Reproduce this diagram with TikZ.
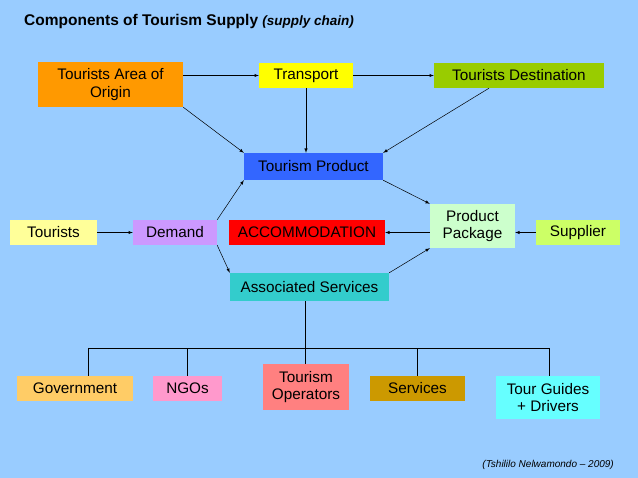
\documentclass[tikz,border=0pt]{standalone}
\usepackage{fontspec}
\setmainfont{Liberation Sans}
\begin{document}
\begin{tikzpicture}[x=1pt,y=-1pt,
  bx/.style={draw=none,inner sep=0pt,align=center,font=\fontsize{15.3}{17.5}\selectfont},
  ar/.style={-latex,black,line width=0.5pt},
  ln/.style={black,line width=0.5pt}]
\fill[fill={rgb,255:red,153;green,204;blue,255}] (0,0) rectangle (638,478);
\useasboundingbox (0,0) rectangle (638,478);
\newcommand\bx[7]{\node[bx,fill={rgb,255:#6},minimum width={#4-#2},minimum height={#5-#3}] (#1) at ({(#2+#4)/2},{(#3+#5)/2}) {#7};}
\bx{orig}{38}{62}{183}{107}{red,255;green,153;blue,0}{Tourists Area of\\Origin}
\bx{trans}{259}{63}{353}{88}{red,255;green,255;blue,0}{Transport}
\bx{dest}{434}{63}{604}{88}{red,153;green,204;blue,0}{Tourists Destination}
\bx{prod}{244}{153}{383}{180}{red,51;green,102;blue,255}{Tourism Product}
\bx{tour}{10}{220}{97}{245}{red,255;green,255;blue,153}{Tourists}
\bx{dem}{133}{220}{217}{245}{red,204;green,153;blue,255}{Demand}
\bx{acc}{229}{220}{385}{245}{red,255;green,0;blue,0}{ACCOMMODATION}
\bx{pack}{430}{204}{515}{248}{red,204;green,255;blue,204}{Product\\Package}
\bx{sup}{536}{220}{620}{245}{red,204;green,255;blue,102}{Supplier}
\bx{assoc}{230}{273}{389}{301}{red,51;green,204;blue,204}{Associated Services}
\bx{gov}{17}{376}{133}{401}{red,255;green,204;blue,102}{Government}
\bx{ngo}{153}{376}{222}{401}{red,255;green,153;blue,204}{NGOs}
\bx{op}{263}{364}{349}{410}{red,255;green,128;blue,128}{Tourism\\Operators}
\bx{serv}{370}{376}{465}{401}{red,204;green,153;blue,0}{Services}
\bx{guide}{496}{376}{600}{419}{red,102;green,255;blue,255}{Tour Guides\\+ Drivers}
\node[anchor=west,inner sep=0pt] (title) at (24,21) {\fontsize{15.5}{17}\selectfont\bfseries Components of Tourism Supply \fontsize{13.5}{15}\selectfont\itshape(supply chain)};
\node[anchor=east,inner sep=0pt] (foot) at (614,465) {\fontsize{10}{12}\selectfont\itshape (Tshililo Nelwamondo – 2009)};
\draw[ar] (orig.east|-trans) -- (trans);
\draw[ar] (trans) -- (dest);
\draw[ar] (orig.south east) -- (prod.north west);
\draw[ar] (trans) -- (trans|-prod.north);
\draw[ar] (dest.south) ++(-30,0) -- (prod.north east);
\draw[ar] (prod.south east) -- (pack.north west);
\draw[ar] (dem.north east) -- (prod.south west);
\draw[ar] (tour) -- (dem);
\draw[ar] (dem.south east) -- (assoc.north west);
\draw[ar] (pack.west|-acc) -- (acc);
\draw[ar] (sup) -- (sup-|pack.east);
\draw[ar] (assoc.north east) -- (pack.south west);
\coordinate (j) at (305,348);
\draw[ln] (assoc.south-|j) -- (j);
\draw[ln] (88,348) -- (549,348);
\draw[ln] (88,348) -- (88,376);
\draw[ln] (ngo.north) -- (ngo.north|-j);
\draw[ln] (j) -- (op.north-|j);
\draw[ln] (serv.north) -- (serv.north|-j);
\draw[ln] (549,348) -- (549,376);
\end{tikzpicture}
\end{document}
